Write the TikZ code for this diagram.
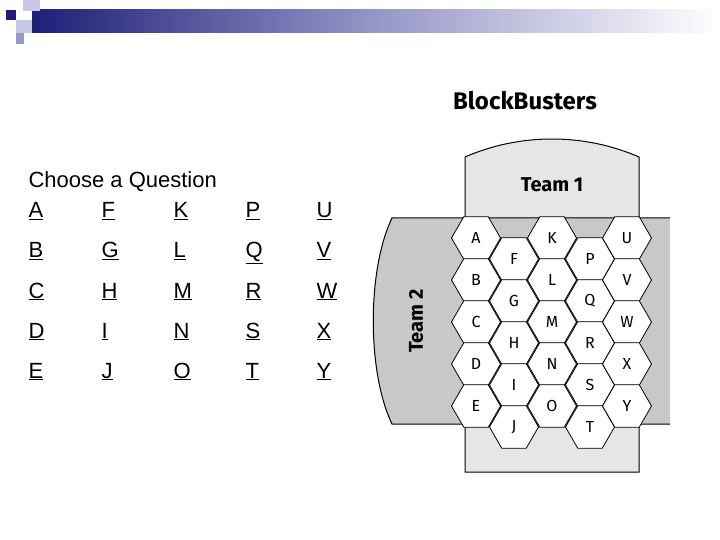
\documentclass[tikz,border=0pt]{standalone}
\usepackage{fontspec}
\setmainfont{Liberation Sans}
\newfontfamily\comic{Fira Sans}
\usetikzlibrary{shapes.geometric}
\definecolor{navy}{RGB}{30,30,120}
\definecolor{lav}{RGB}{200,200,230}
\definecolor{lav2}{RGB}{150,150,200}
\definecolor{tone}{RGB}{230,230,230}
\definecolor{ttwo}{RGB}{200,200,200}
\tikzset{
  hexa/.style={regular polygon, regular polygon sides=6, minimum size=49pt, inner sep=0pt, draw=black, line width=0.8pt, fill=white, font=\comic\fontsize{16}{16}\selectfont},
  pick/.style={anchor=base west, font=\fontsize{22}{22}\selectfont},
  board/.style={draw=black, line width=1pt}
}
\begin{document}
\begin{tikzpicture}[x=1pt,y=-1pt]
\useasboundingbox (0,0) rectangle (720,540);
% header bar
\shade[left color=navy, right color=white, middle color=lav2] (32,10) rectangle (720,33);
\fill[lav] (23,0) rectangle (40,11);
\fill[lav] (16,20) rectangle (32,33);
\fill[lav2] (16,33) rectangle (24,44);
\fill[navy] (6,10) rectangle (16,20);
% left text
\node[pick] (title) at (25,188) {Choose a Question};
\foreach \r/\y in {0/218,1/258,2/298,3/338,4/378}{
  \foreach \c/\x in {0/25,1/98,2/170,3/242,4/313}{
    \pgfmathtruncatemacro{\n}{65+\c*5+\r}
    \node[pick] (q\r\c) at (\x,\y) {\underline{\char\n}};
  }
}
% board
\node[font=\comic\bfseries\fontsize{24}{24}\selectfont] (bb) at (525,101) {BlockBusters};
\draw[board, fill=tone] (465,472) -- (465,157) .. controls (520,133) and (584,133) .. (639,157) -- (639,472) -- cycle;
\draw[board, fill=ttwo] (670,218) -- (392,218) .. controls (367,270) and (367,372) .. (392,424) -- (670,424);
\fill[ttwo] (639,219) rectangle (670,423);
\node[font=\comic\bfseries\fontsize{20}{20}\selectfont] (t1) at (552,185) {Team 1};
\node[font=\comic\bfseries\fontsize{20}{20}\selectfont, rotate=90] (t2) at (416,321) {Team 2};
\foreach \c/\x/\yo in {0/476/238,1/514/259,2/552/238,3/590/259,4/627/238}{
  \foreach \r in {0,...,4}{
    \pgfmathtruncatemacro{\n}{65+\c*5+\r}
    \pgfmathsetmacro{\yy}{\yo+42*\r}
    \node[hexa] (h\c\r) at (\x,\yy) {\char\n};
  }
}
\end{tikzpicture}
\end{document}
